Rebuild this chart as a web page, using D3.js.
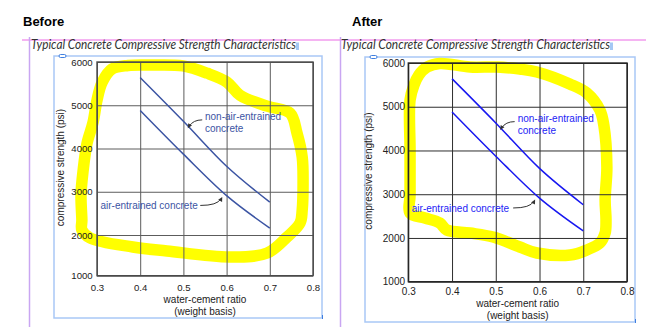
<!DOCTYPE html>
<html>
<head>
<meta charset="utf-8">
<script src="https://cdn.jsdelivr.net/npm/d3@7"></script>
<style>
  body { margin: 0; background: #fff; }
  svg { display: block; }
</style>
</head>
<body>
<svg width="646" height="333"></svg>
<script>
// strength curves, psi by water-cement ratio
const RATIOS = [0.4, 0.5, 0.6, 0.7];
const NON_AIR = [5640, 4630, 3590, 2760];
const AIR = [4880, 3870, 2910, 2160];

const X_TICKS = [0.3, 0.4, 0.5, 0.6, 0.7, 0.8];
const Y_TICKS = [1000, 2000, 3000, 4000, 5000, 6000];

const TITLE = 'Typical Concrete Compressive Strength Characteristics';
const X_TITLE = ['water-cement ratio', '(weight basis)'];
const Y_TITLE = 'compressive strength (psi)';
const NON_AIR_LABEL = ['non-air-entrained', 'concrete'];
const AIR_LABEL = 'air-entrained concrete';

// callout anchors in chart units [ratio, psi]
const NON_AIR_NOTE = [0.55, 4650];
const NON_AIR_TIP = [0.51, 4470];
const AIR_NOTE = [0.308, 2600];
const AIR_TIP = [0.59, 2880];

// highlighter loops in chart units [ratio, psi]
const MARK_BEFORE = [
  [0.265, 2346], [0.263, 2924], [0.268, 3501], [0.277, 4124], [0.291, 4609],
  [0.300, 5117], [0.312, 5533], [0.335, 5840], [0.372, 5920], [0.423, 5930],
  [0.499, 5910], [0.555, 5741], [0.601, 5533], [0.631, 5233], [0.694, 4979],
  [0.747, 4817], [0.763, 4355], [0.775, 3801], [0.777, 3201], [0.775, 2577],
  [0.770, 2277], [0.740, 1951], [0.694, 1558], [0.608, 1459], [0.462, 1607],
  [0.383, 1705], [0.284, 1926], [0.265, 2115]
];
const MARK_AFTER = [
  [0.304, 2982], [0.304, 4011], [0.304, 5154], [0.313, 5497], [0.324, 5725],
  [0.343, 5908], [0.372, 5990], [0.441, 5908], [0.503, 5908], [0.555, 5862],
  [0.594, 5794], [0.669, 5520], [0.708, 5314], [0.738, 4925], [0.747, 4582],
  [0.754, 3622], [0.750, 2868], [0.752, 2410], [0.750, 2113], [0.738, 1884],
  [0.708, 1725], [0.670, 1610], [0.594, 1656], [0.555, 1793], [0.494, 2022],
  [0.441, 2113], [0.388, 2182], [0.372, 2342], [0.338, 2456], [0.304, 2570]
];

const SVG = d3.select('svg');
const FONT = '"Liberation Sans", Arial, sans-serif';

// page chrome: ruler line across the top
SVG.append('line')
  .attr('x1', 22).attr('y1', 40).attr('x2', 646).attr('y2', 40)
  .style('stroke', '#f5b4f2').style('stroke-width', 2);

const PANELS = [
  {
    id: 'before', name: 'Before', nameX: 23, guideX: 29.5, titleX: 31, titleW: 265,
    frame: [54, 56, 322, 318], x: [97, 313], yDomain: [1000, 2000, 6000], yRange: [275.7, 235, 62],
    grid: '#5c5c5c', border: '#4a4a4a', line: '#3b54a3', text: '#3b54a3',
    xPad: 8, yPad: 4.3, xTitleY: 303.3, yTitleX: 63.5, yTitleY: 167.5, tickSize: 9.6, mark: MARK_BEFORE
  },
  {
    id: 'after', name: 'After', nameX: 352, guideX: 340.5, titleX: 341, titleW: 269,
    frame: [365, 57, 635, 322], x: [408.3, 627], yDomain: [1000, 6000], yRange: [281.7, 63],
    grid: '#2e2e2e', border: '#262626', line: '#1717f0', text: '#1d1df5',
    xPad: 6, yPad: 3.3, xTitleY: 307.3, yTitleX: 372, yTitleY: 171, tickSize: 10, mark: MARK_AFTER
  }
];

PANELS.forEach(p => {
  const G = SVG.append('g').attr('id', p.id);

  const X_SCALE = d3.scaleLinear().domain([0.3, 0.8]).range(p.x);
  const Y_SCALE = d3.scaleLinear().domain(p.yDomain).range(p.yRange);
  const TOP = Y_SCALE(6000);
  const BOTTOM = Y_SCALE(1000);

  // heading and guide line
  G.append('text')
    .text(p.name)
    .attr('x', p.nameX).attr('y', 26)
    .style('font-family', FONT).style('font-weight', 'bold').style('font-size', '13px')
    .style('fill', '#000');
  G.append('line')
    .attr('x1', p.guideX).attr('y1', 37).attr('x2', p.guideX).attr('y2', 327)
    .style('stroke', '#c9a6f2').style('stroke-width', 1.5);

  // figure caption with text cursor
  G.append('text')
    .text(TITLE)
    .attr('x', p.titleX).attr('y', 49)
    .attr('textLength', p.titleW).attr('lengthAdjust', 'spacingAndGlyphs')
    .style('font-family', 'Lato, "Open Sans", sans-serif').style('font-style', 'italic')
    .style('font-size', '12.5px').style('fill', '#333');
  G.append('rect')
    .attr('x', p.titleX + p.titleW).attr('y', 42.5).attr('width', 3).attr('height', 7.5)
    .style('fill', '#a4c8f4');

  // image frame
  const [fx0, fy0, fx1, fy1] = p.frame;
  G.append('rect')
    .attr('x', fx0).attr('y', fy0).attr('width', fx1 - fx0).attr('height', fy1 - fy0)
    .style('fill', 'none').style('stroke', '#a9c8f6').style('stroke-width', 1.5);
  G.append('rect')
    .attr('x', fx0 + 5).attr('y', fy0 - 1.5).attr('width', 7).attr('height', 3).attr('rx', 1.5)
    .style('fill', '#fff').style('stroke', '#3f7fe0').style('stroke-width', 1);
  G.append('line')
    .attr('x1', fx1 + 0.5).attr('y1', fy1 - 3).attr('x2', fx1 + 0.5).attr('y2', fy1 + 1)
    .style('stroke', '#3f7fe0').style('stroke-width', 1);

  // highlighter scribble, under the chart ink
  G.append('path')
    .datum(p.mark)
    .attr('d', d3.line()
      .x(d => X_SCALE(d[0]))
      .y(d => Y_SCALE(d[1]))
      .curve(d3.curveCatmullRomClosed))
    .style('fill', 'none').style('stroke', '#ffff00')
    .style('stroke-width', 11.5).style('stroke-linejoin', 'round');

  // x grid + labels
  const X_AXIS_G = G.append('g')
    .attr('transform', `translate(0,${BOTTOM})`)
    .call(d3.axisBottom(X_SCALE)
      .tickValues(X_TICKS)
      .tickFormat(d3.format('.1f'))
      .tickSize(-(BOTTOM - TOP))
      .tickPadding(p.xPad));
  // y grid + labels
  const Y_AXIS_G = G.append('g')
    .attr('transform', `translate(${p.x[0]},0)`)
    .call(d3.axisLeft(Y_SCALE)
      .tickValues(Y_TICKS)
      .tickFormat(d3.format('d'))
      .tickSize(-(p.x[1] - p.x[0]))
      .tickPadding(p.yPad));

  [X_AXIS_G, Y_AXIS_G].forEach(a => {
    a.select('.domain').remove();
    a.selectAll('line').style('stroke', p.grid).style('stroke-width', 1);
    a.selectAll('text')
      .style('font-family', FONT).style('font-size', `${p.tickSize}px`).style('fill', '#222');
  });

  G.append('rect')
    .attr('x', p.x[0]).attr('y', TOP).attr('width', p.x[1] - p.x[0]).attr('height', BOTTOM - TOP)
    .style('fill', 'none').style('stroke', p.border).style('stroke-width', 1.4);

  // axis titles
  G.selectAll('.xtitle')
    .data(X_TITLE)
    .join('text')
    .attr('class', 'xtitle')
    .text(d => d)
    .attr('x', (p.x[0] + p.x[1]) / 2)
    .attr('y', (d, i) => p.xTitleY + i * 12)
    .style('text-anchor', 'middle')
    .style('font-family', FONT).style('font-size', '10px').style('fill', '#222');
  G.append('text')
    .text(Y_TITLE)
    .attr('transform', `translate(${p.yTitleX},${p.yTitleY}) rotate(-90)`)
    .style('text-anchor', 'middle')
    .style('font-family', FONT).style('font-size', '10px').style('fill', '#222');

  // the two strength curves
  const LINE = d3.line()
    .x((d, i) => X_SCALE(RATIOS[i]))
    .y(d => Y_SCALE(d))
    .curve(d3.curveMonotoneX);
  G.selectAll('.curve')
    .data([NON_AIR, AIR])
    .join('path')
    .attr('class', 'curve')
    .attr('d', LINE)
    .style('fill', 'none').style('stroke', p.line).style('stroke-width', 1.5);

  // callouts
  const labelStyle = sel => sel
    .style('font-family', FONT).style('font-size', '10px').style('fill', p.text);

  G.selectAll('.nonair')
    .data(NON_AIR_LABEL)
    .join('text')
    .attr('class', 'nonair')
    .text(d => d)
    .attr('x', X_SCALE(NON_AIR_NOTE[0]))
    .attr('y', (d, i) => Y_SCALE(NON_AIR_NOTE[1]) + i * 12)
    .call(labelStyle);
  G.append('text')
    .text(AIR_LABEL)
    .attr('x', X_SCALE(AIR_NOTE[0]))
    .attr('y', Y_SCALE(AIR_NOTE[1]))
    .call(labelStyle);

  const arrowHead = (tx, ty, angle) => {
    const a = angle, s = 4.5, w = 2.2;
    const bx = tx - s * Math.cos(a), by = ty - s * Math.sin(a);
    return `M${tx},${ty}L${bx - w * Math.sin(a)},${by + w * Math.cos(a)}L${bx + w * Math.sin(a)},${by - w * Math.cos(a)}Z`;
  };

  // arrow to the non-air curve
  const t1x = X_SCALE(NON_AIR_TIP[0]), t1y = Y_SCALE(NON_AIR_TIP[1]);
  G.append('path')
    .attr('d', `M${t1x + 14.5},${t1y - 8.3}Q${t1x + 5.5},${t1y - 8.3} ${t1x + 1.5},${t1y - 2}`)
    .style('fill', 'none').style('stroke', '#333').style('stroke-width', 1);
  G.append('path')
    .attr('d', arrowHead(t1x, t1y, Math.atan2(6.3, -4)))
    .style('fill', '#333');

  // arrow to the air-entrained curve
  const t2x = X_SCALE(AIR_TIP[0]), t2y = Y_SCALE(AIR_TIP[1]);
  G.append('path')
    .attr('d', `M${t2x - 22},${t2y + 8.5}Q${t2x - 5},${t2y + 8.5} ${t2x - 1.5},${t2y + 2}`)
    .style('fill', 'none').style('stroke', '#333').style('stroke-width', 1);
  G.append('path')
    .attr('d', arrowHead(t2x, t2y, Math.atan2(-6.5, 3.5)))
    .style('fill', '#333');
});
</script>
</body>
</html>
